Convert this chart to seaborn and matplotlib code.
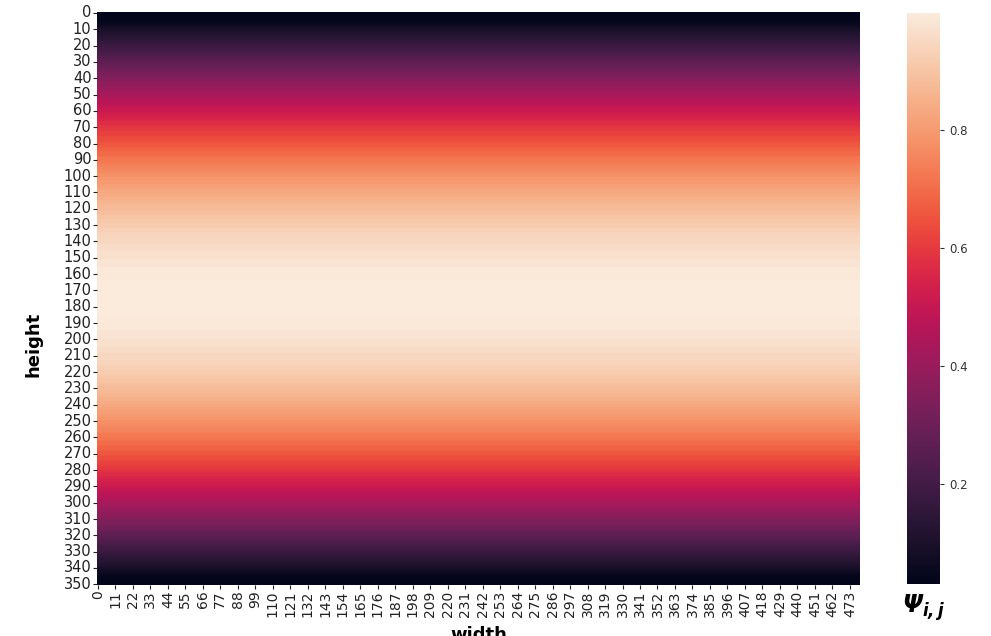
import matplotlib
matplotlib.use("Agg")
import matplotlib.pyplot as plt
import numpy as np
import pandas as pd
import seaborn as sns

# the field does not change along the width
psi_rows = [
    0.00, 0.01, 0.02, 0.03, 0.04, 0.04, 0.05, 0.06, 0.07, 0.08,
    0.09, 0.10, 0.11, 0.12, 0.13, 0.13, 0.14, 0.15, 0.16, 0.17,
    0.18, 0.19, 0.20, 0.20, 0.21, 0.22, 0.23, 0.24, 0.25, 0.26,
    0.27, 0.27, 0.28, 0.29, 0.30, 0.31, 0.32, 0.33, 0.33, 0.34,
    0.35, 0.36, 0.37, 0.38, 0.38, 0.39, 0.40, 0.41, 0.42, 0.43,
    0.43, 0.44, 0.45, 0.46, 0.47, 0.47, 0.48, 0.49, 0.50, 0.51,
    0.51, 0.52, 0.53, 0.54, 0.54, 0.55, 0.56, 0.57, 0.57, 0.58,
    0.59, 0.60, 0.60, 0.61, 0.62, 0.62, 0.63, 0.64, 0.64, 0.65,
    0.66, 0.66, 0.67, 0.68, 0.68, 0.69, 0.70, 0.70, 0.71, 0.72,
    0.72, 0.73, 0.73, 0.74, 0.75, 0.75, 0.76, 0.76, 0.77, 0.78,
    0.78, 0.79, 0.79, 0.80, 0.80, 0.81, 0.81, 0.82, 0.82, 0.83,
    0.83, 0.84, 0.84, 0.85, 0.85, 0.86, 0.86, 0.87, 0.87, 0.88,
    0.88, 0.88, 0.89, 0.89, 0.90, 0.90, 0.90, 0.91, 0.91, 0.92,
    0.92, 0.92, 0.93, 0.93, 0.93, 0.94, 0.94, 0.94, 0.95, 0.95,
    0.95, 0.95, 0.96, 0.96, 0.96, 0.96, 0.97, 0.97, 0.97, 0.97,
    0.97, 0.98, 0.98, 0.98, 0.98, 0.98, 0.99, 0.99, 0.99, 0.99,
    0.99, 0.99, 0.99, 0.99, 1.00, 1.00, 1.00, 1.00, 1.00, 1.00,
    1.00, 1.00, 1.00, 1.00, 1.00, 1.00, 1.00, 1.00, 1.00, 1.00,
    1.00, 1.00, 1.00, 1.00, 1.00, 1.00, 1.00, 0.99, 0.99, 0.99,
    0.99, 0.99, 0.99, 0.99, 0.99, 0.98, 0.98, 0.98, 0.98, 0.98,
    0.97, 0.97, 0.97, 0.97, 0.97, 0.96, 0.96, 0.96, 0.96, 0.95,
    0.95, 0.95, 0.95, 0.94, 0.94, 0.94, 0.93, 0.93, 0.93, 0.92,
    0.92, 0.92, 0.91, 0.91, 0.90, 0.90, 0.90, 0.89, 0.89, 0.88,
    0.88, 0.88, 0.87, 0.87, 0.86, 0.86, 0.85, 0.85, 0.84, 0.84,
    0.83, 0.83, 0.82, 0.82, 0.81, 0.81, 0.80, 0.80, 0.79, 0.79,
    0.78, 0.78, 0.77, 0.76, 0.76, 0.75, 0.75, 0.74, 0.73, 0.73,
    0.72, 0.72, 0.71, 0.70, 0.70, 0.69, 0.68, 0.68, 0.67, 0.66,
    0.66, 0.65, 0.64, 0.64, 0.63, 0.62, 0.62, 0.61, 0.60, 0.60,
    0.59, 0.58, 0.57, 0.57, 0.56, 0.55, 0.54, 0.54, 0.53, 0.52,
    0.51, 0.51, 0.50, 0.49, 0.48, 0.47, 0.47, 0.46, 0.45, 0.44,
    0.43, 0.43, 0.42, 0.41, 0.40, 0.39, 0.38, 0.38, 0.37, 0.36,
    0.35, 0.34, 0.33, 0.33, 0.32, 0.31, 0.30, 0.29, 0.28, 0.27,
    0.27, 0.26, 0.25, 0.24, 0.23, 0.22, 0.21, 0.20, 0.20, 0.19,
    0.18, 0.17, 0.16, 0.15, 0.14, 0.13, 0.13, 0.12, 0.11, 0.10,
    0.09, 0.08, 0.07, 0.06, 0.05, 0.04, 0.04, 0.03, 0.02, 0.01,
    0.00,
]
n_width = 480
cbar_ticks = [0.2, 0.4, 0.6, 0.8]

field = pd.DataFrame(np.repeat(np.array(psi_rows)[:, None], n_width, axis=1))

fig = plt.figure(figsize=(9.91, 6.36), dpi=100)
ax = fig.add_axes([0.098, 0.080, 0.770, 0.901])
cax = fig.add_axes([0.915, 0.082, 0.034, 0.898])

sns.heatmap(field, ax=ax, cbar_ax=cax, xticklabels=11, yticklabels=10,
            vmin=0.03, vmax=1.0, cbar_kws={"ticks": cbar_ticks})

ax.tick_params(axis="y", labelsize=10.5, length=3, pad=1, colors="#222222")
ax.tick_params(axis="x", labelsize=10, length=3, pad=1, colors="#222222")
ax.set_yticklabels(ax.get_yticklabels(), rotation=0)
ax.set_xticklabels(ax.get_xticklabels(), rotation=90)
ax.set_ylabel("height", fontsize=13, fontweight="bold")
ax.yaxis.set_label_coords(-0.071, 0.42)
ax.set_xlabel("width", fontsize=13, fontweight="bold", labelpad=6)

cax.tick_params(labelsize=8.5, length=3, colors="#333333")
fig.text(0.932, 0.045, r"$\mathbfit{\Psi}_{\mathbfit{i,j}}$", fontsize=17,
         ha="center", va="center")

fig.savefig("out.png", dpi=100)
